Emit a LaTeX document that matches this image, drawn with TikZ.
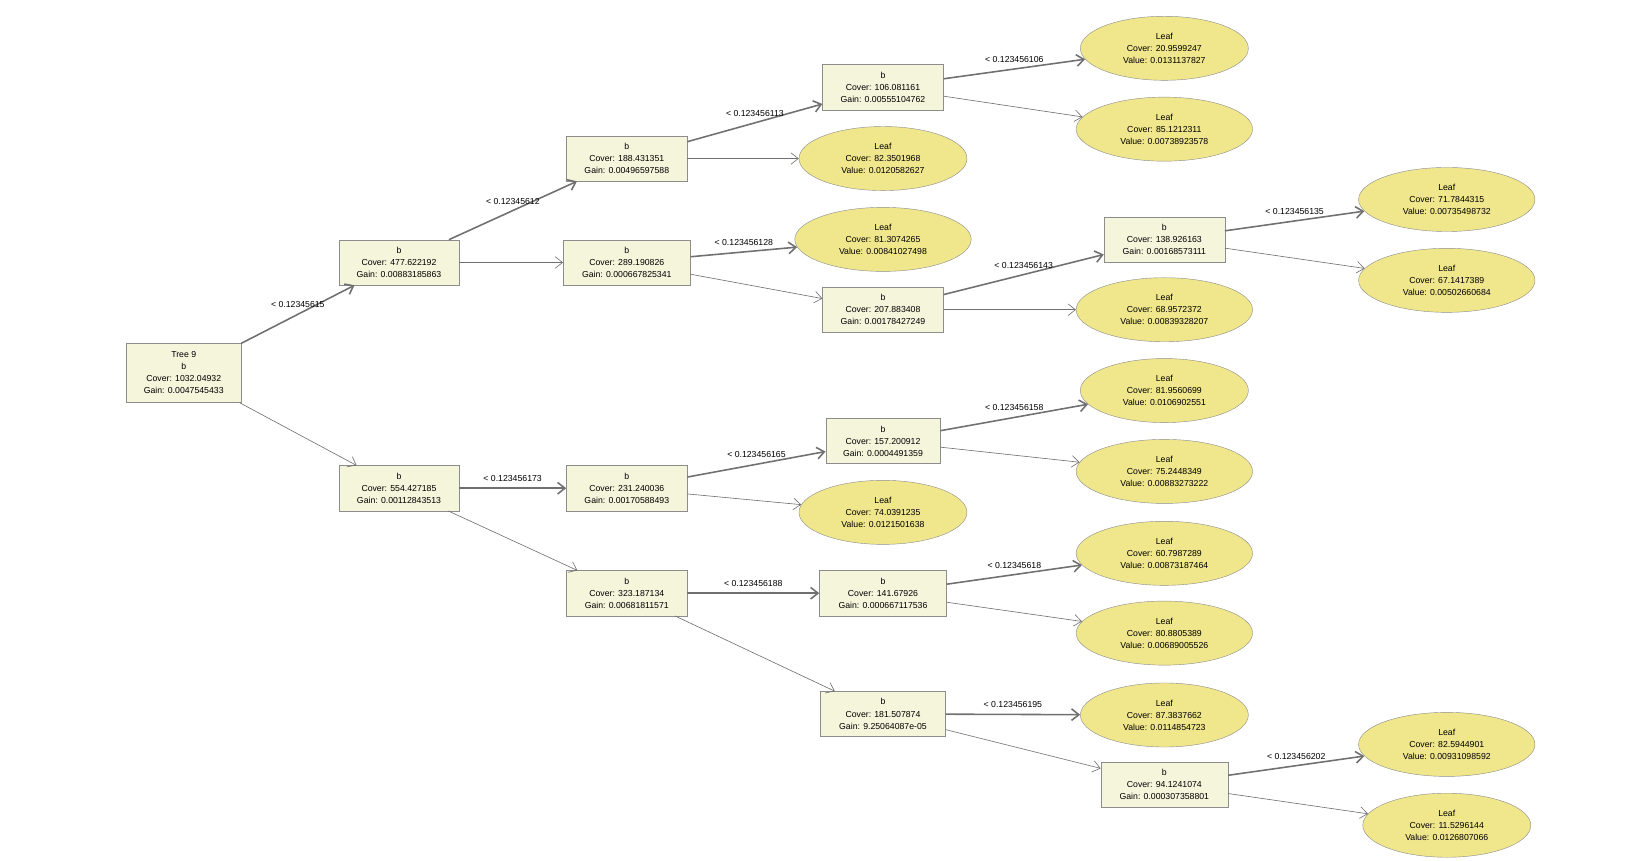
\documentclass[tikz,border=0pt]{standalone}
\usepackage{fontspec}
\setmainfont{Liberation Sans}
\usetikzlibrary{arrows.meta,shapes.geometric}
\definecolor{boxfill}{HTML}{F5F5DC}
\definecolor{leaffill}{HTML}{F0E68C}
\definecolor{edgec}{HTML}{707070}
\tikzset{
 sbox/.style={draw=edgec!80,fill=boxfill,align=center,inner sep=2pt,font=\fontsize{8.3}{11.5}\selectfont,minimum height=43pt},
 leaf/.style={draw=edgec!80,fill=leaffill,ellipse,align=center,inner sep=0pt,font=\fontsize{8.3}{11.5}\selectfont,minimum height=61pt},
 yes/.style={draw=edgec,line width=1.5pt,-{Straight Barb[length=7pt,width=11pt]}},
 no/.style={draw=edgec,line width=0.6pt,-{Straight Barb[length=7pt,width=11pt]}},
 lbl/.style={midway,above=2pt,font=\fontsize{8.3}{10}\selectfont,text=black}
}
\newcommand{\lf}[2]{Leaf\\Cover: #1\\Value: #2}
\newcommand{\bx}[2]{b\\Cover: #1\\Gain: #2}
\begin{document}
\begin{tikzpicture}[x=1pt,y=-1pt]
\useasboundingbox (0,0) rectangle (1563,820);
\node[sbox,minimum height=57pt,minimum width=109pt] (r) at (175,355) {Tree 9\\b\\Cover: 1032.04932\\Gain: 0.0047545433};
\node[sbox,minimum width=114pt] (A) at (380,250) {\bx{477.622192}{0.00883185863}};
\node[sbox,minimum width=114pt] (B) at (380,465) {\bx{554.427185}{0.00112843513}};
\node[sbox,minimum width=115pt] (A1) at (597,151) {\bx{188.431351}{0.00496597588}};
\node[sbox,minimum width=121pt] (A2) at (597,250) {\bx{289.190826}{0.000667825341}};
\node[sbox,minimum width=115pt] (B1) at (597,465) {\bx{231.240036}{0.00170588493}};
\node[sbox,minimum width=115pt] (B2) at (597,565) {\bx{323.187134}{0.00681811571}};
\node[sbox,minimum width=115pt] (A1a) at (841,83) {\bx{106.081161}{0.00555104762}};
\node[leaf,minimum width=160pt] (L1) at (841,151) {\lf{82.3501968}{0.0120582627}};
\node[leaf,minimum width=168pt] (L2) at (841,228) {\lf{81.3074265}{0.00841027498}};
\node[sbox,minimum width=115pt] (A2b) at (841,295) {\bx{207.883408}{0.00178427249}};
\node[sbox,minimum width=115pt] (C) at (1109,228) {\bx{138.926163}{0.00168573111}};
\node[leaf,minimum width=168pt] (L3) at (1109,295) {\lf{68.9572372}{0.00839328207}};
\node[leaf,minimum width=160pt] (L4) at (1109,46) {\lf{20.9599247}{0.0131137827}};
\node[leaf,minimum width=168pt] (L5) at (1109,123) {\lf{85.1212311}{0.00738923578}};
\node[leaf,minimum width=168pt] (L6) at (1378,190) {\lf{71.7844315}{0.00735498732}};
\node[leaf,minimum width=168pt] (L7) at (1378,267) {\lf{67.1417389}{0.00502660684}};
\node[sbox,minimum width=109pt] (B1a) at (841,420) {\bx{157.200912}{0.0004491359}};
\node[leaf,minimum width=160pt] (L8) at (841,488) {\lf{74.0391235}{0.0121501638}};
\node[leaf,minimum width=160pt] (L9) at (1109,372) {\lf{81.9560699}{0.0106902551}};
\node[leaf,minimum width=168pt] (L10) at (1109,449) {\lf{75.2448349}{0.00883273222}};
\node[sbox,minimum width=121pt] (B2a) at (841,565) {\bx{141.67926}{0.000667117536}};
\node[sbox,minimum width=119pt] (B2b) at (841,680) {\bx{181.507874}{9.25064087e-05}};
\node[leaf,minimum width=168pt] (L11) at (1109,527) {\lf{60.7987289}{0.00873187464}};
\node[leaf,minimum width=168pt] (L12) at (1109,603) {\lf{80.8805389}{0.00689005526}};
\node[leaf,minimum width=160pt] (L13) at (1109,681) {\lf{87.3837662}{0.0114854723}};
\node[sbox,minimum width=121pt] (D) at (1109,747) {\bx{94.1241074}{0.000307358801}};
\node[leaf,minimum width=168pt] (L14) at (1378,709) {\lf{82.5944901}{0.00931098592}};
\node[leaf,minimum width=160pt] (L15) at (1378,786) {\lf{11.5296144}{0.0126807066}};

\draw[yes] (r) -- (A) node[lbl]{< 0.12345615};
\draw[no] (r) -- (B);
\draw[yes] (A) -- (A1) node[lbl]{< 0.12345612};
\draw[no] (A) -- (A2);
\draw[yes] (A1) -- (A1a) node[lbl]{< 0.123456113};
\draw[no] (A1) -- (L1);
\draw[yes] (A1a) -- (L4) node[lbl]{< 0.123456106};
\draw[no] (A1a) -- (L5);
\draw[yes] (A2) -- (L2) node[lbl]{< 0.123456128};
\draw[no] (A2) -- (A2b);
\draw[yes] (A2b) -- (C) node[lbl]{< 0.123456143};
\draw[no] (A2b) -- (L3);
\draw[yes] (C) -- (L6) node[lbl]{< 0.123456135};
\draw[no] (C) -- (L7);
\draw[yes] (B) -- (B1) node[lbl]{< 0.123456173};
\draw[no] (B) -- (B2);
\draw[yes] (B1) -- (B1a) node[lbl]{< 0.123456165};
\draw[no] (B1) -- (L8);
\draw[yes] (B1a) -- (L9) node[lbl]{< 0.123456158};
\draw[no] (B1a) -- (L10);
\draw[yes] (B2) -- (B2a) node[lbl]{< 0.123456188};
\draw[no] (B2) -- (B2b);
\draw[yes] (B2a) -- (L11) node[lbl]{< 0.12345618};
\draw[no] (B2a) -- (L12);
\draw[yes] (B2b) -- (L13) node[lbl]{< 0.123456195};
\draw[no] (B2b) -- (D);
\draw[yes] (D) -- (L14) node[lbl]{< 0.123456202};
\draw[no] (D) -- (L15);
\end{tikzpicture}
\end{document}
